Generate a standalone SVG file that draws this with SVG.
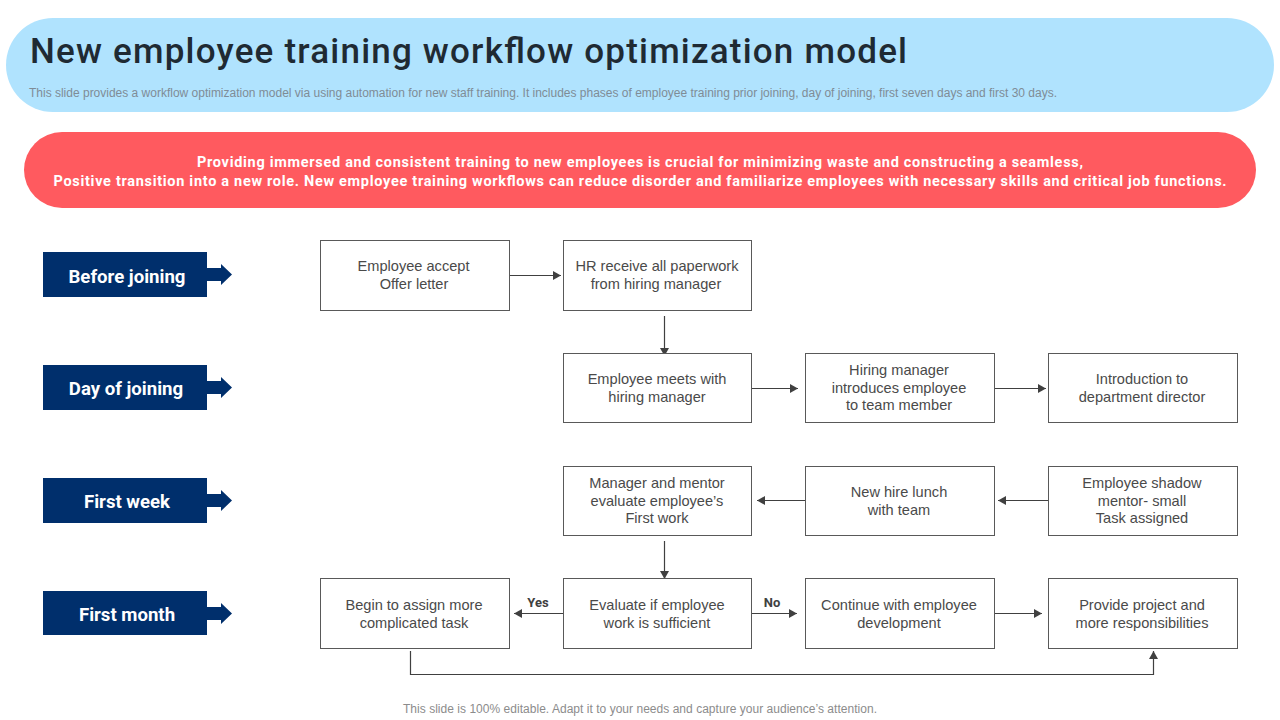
<svg xmlns="http://www.w3.org/2000/svg" width="1280" height="720" viewBox="0 0 1280 720">
<style>
.din{font-family:"Roboto","Liberation Sans",sans-serif}
.box rect{fill:#fff;stroke:#595959;stroke-width:1}
.box text{font-family:"Liberation Sans",Arial,sans-serif;font-size:14.6px;fill:#4a4a4a;text-anchor:middle}
.tag rect,.tag path{fill:#002f6c}
.tag text{font-family:"Roboto","Liberation Sans",sans-serif;font-weight:700;font-size:18.6px;fill:#fff;text-anchor:middle}
.line{fill:none;stroke:#404040;stroke-width:1.2}
.lab{font-family:"Roboto","Liberation Sans",sans-serif;font-weight:700;font-size:13px;fill:#404040;text-anchor:middle}
</style>
<defs><marker id="ah" markerUnits="userSpaceOnUse" markerWidth="9" markerHeight="10" refX="8" refY="4.500" orient="auto"><path d="M0 0L8 4.500L0 9Z" fill="#404040"/></marker></defs>
<g id="header">
<rect x="6" y="18" width="1268" height="94" rx="47" fill="#b0e3fe"/>
<text class="din" x="30" y="63" font-size="35" font-weight="500" fill="#1f2a33" textLength="877" lengthAdjust="spacing">New employee training workflow optimization model</text>
<text x="29" y="97" font-family="Liberation Sans,Arial,sans-serif" font-size="12" fill="#7f8c96" textLength="1028" lengthAdjust="spacing">This slide provides a workflow optimization model via using automation for new staff training. It includes phases of employee training prior joining, day of joining, first seven days and first 30 days.</text>
</g>
<g id="banner">
<rect x="24" y="132" width="1232" height="76" rx="38" fill="#ff5a5f"/>
<text class="din" x="640" y="167" font-size="14.5" font-weight="700" fill="#fff" text-anchor="middle" textLength="886" lengthAdjust="spacing">Providing immersed and consistent training to new employees is crucial for minimizing waste and constructing a seamless,</text>
<text class="din" x="640" y="186" font-size="14.5" font-weight="700" fill="#fff" text-anchor="middle" textLength="1173" lengthAdjust="spacing">Positive transition into a new role. New employee training workflows can reduce disorder and familiarize employees with necessary skills and critical job functions.</text>
</g>
<g id="tag-before" class="tag"><rect x="43" y="252" width="164" height="45"/><path d="M207 268H221V264L232 274.500L221 285V281H207Z"/><text x="127" y="283">Before joining</text></g>
<g id="tag-day" class="tag"><rect x="43" y="365" width="164" height="45"/><path d="M207 381H221V377L232 387.500L221 398V394H207Z"/><text x="126" y="395">Day of joining</text></g>
<g id="tag-week" class="tag"><rect x="43" y="478" width="164" height="45"/><path d="M207 494H221V490L232 500.500L221 511V507H207Z"/><text x="127" y="508">First week</text></g>
<g id="tag-month" class="tag"><rect x="43" y="591" width="164" height="44"/><path d="M207 607H221V603L232 613.500L221 624V620H207Z"/><text x="127" y="621">First month</text></g>
<g id="connectors" class="line">
<path marker-end="url(#ah)" d="M510 275.500H561"/>
<path marker-end="url(#ah)" d="M664.500 316V356"/>
<path marker-end="url(#ah)" d="M752 388.500H798"/>
<path marker-end="url(#ah)" d="M995 388.500H1046"/>
<path marker-end="url(#ah)" d="M1048 500.500H998"/>
<path marker-end="url(#ah)" d="M807 500.500H757"/>
<path marker-end="url(#ah)" d="M664.500 541V579"/>
<path marker-end="url(#ah)" d="M563 613.500H514"/>
<path marker-end="url(#ah)" d="M752 613.500H797"/>
<path marker-end="url(#ah)" d="M995 613.500H1042"/>
<path marker-end="url(#ah)" d="M410.500 651V674.500H1153.500V651"/>
</g>
<text class="lab" x="538" y="607">Yes</text>
<text class="lab" x="772" y="607">No</text>
<g id="n1" class="box"><rect x="320.500" y="240.500" width="189" height="70"/><text x="413.500" y="271">Employee accept</text><text x="414" y="289">Offer letter</text></g>
<g id="n2" class="box"><rect x="563.500" y="240.500" width="188" height="70"/><text x="657" y="271">HR receive all paperwork</text><text x="656" y="289">from hiring manager</text></g>
<g id="n3" class="box"><rect x="563.500" y="353.500" width="188" height="69"/><text x="657" y="384">Employee meets with</text><text x="657" y="402">hiring manager</text></g>
<g id="n4" class="box"><rect x="805.500" y="353.500" width="189" height="69"/><text x="899" y="375">Hiring manager</text><text x="899" y="393">introduces employee</text><text x="899" y="410">to team member</text></g>
<g id="n5" class="box"><rect x="1048.500" y="353.500" width="189" height="69"/><text x="1142" y="384">Introduction to</text><text x="1142" y="402">department director</text></g>
<g id="n6" class="box"><rect x="563.500" y="466.500" width="188" height="69"/><text x="657" y="488">Manager and mentor</text><text x="657" y="506">evaluate employee’s</text><text x="657" y="523">First work</text></g>
<g id="n7" class="box"><rect x="805.500" y="466.500" width="189" height="69"/><text x="899" y="497">New hire lunch</text><text x="899" y="515">with team</text></g>
<g id="n8" class="box"><rect x="1048.500" y="466.500" width="189" height="69"/><text x="1142" y="488">Employee shadow</text><text x="1142" y="506">mentor- small</text><text x="1142" y="523">Task assigned</text></g>
<g id="n9" class="box"><rect x="320.500" y="578.500" width="189" height="70"/><text x="414" y="610">Begin to assign more</text><text x="414" y="628">complicated task</text></g>
<g id="n10" class="box"><rect x="563.500" y="578.500" width="188" height="70"/><text x="657" y="610">Evaluate if employee</text><text x="657" y="628">work is sufficient</text></g>
<g id="n11" class="box"><rect x="805.500" y="578.500" width="189" height="70"/><text x="899" y="610">Continue with employee</text><text x="899" y="628">development</text></g>
<g id="n12" class="box"><rect x="1048.500" y="578.500" width="189" height="70"/><text x="1142" y="610">Provide project and</text><text x="1142" y="628">more responsibilities</text></g>
<text x="640" y="713" font-family="Liberation Sans,Arial,sans-serif" font-size="12" fill="#8c8c8c" text-anchor="middle" textLength="474" lengthAdjust="spacing">This slide is 100% editable. Adapt it to your needs and capture your audience’s attention.</text>
</svg>
